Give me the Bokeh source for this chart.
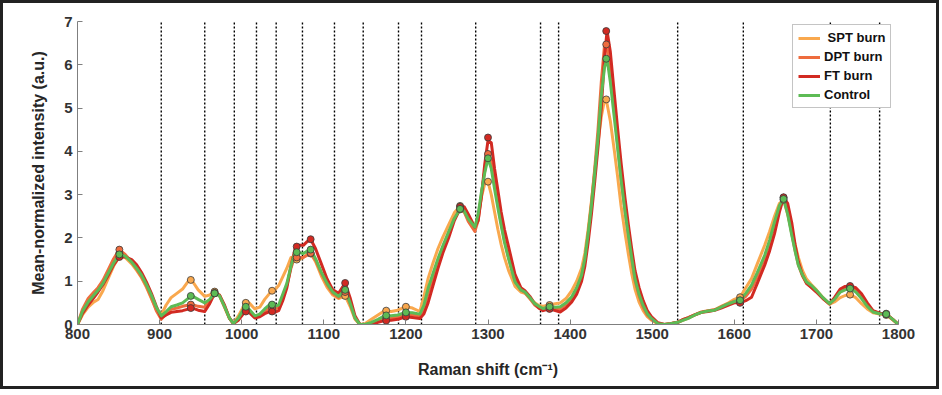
from bokeh.plotting import figure
from bokeh.models import Range1d, FixedTicker, Legend, LegendItem
from bokeh.embed import file_html
from bokeh.resources import INLINE

# ---------------- data ----------------
shift = [800, 806, 813, 820, 825, 831, 837, 844, 851, 858, 866, 872, 878, 884, 890, 896, 902, 908, 914, 921,
         928, 936, 940, 947, 955, 961, 967, 973, 979, 985, 990, 996, 1004, 1009, 1016, 1022, 1028, 1034, 1040, 1045,
         1050, 1055, 1060, 1065, 1070, 1075, 1080, 1084, 1090, 1097, 1104, 1111, 1118, 1126, 1132, 1138, 1144, 1150, 1158, 1166,
         1174, 1182, 1190, 1200, 1208, 1217, 1222, 1227, 1233, 1239, 1245, 1252, 1259, 1266, 1271, 1276, 1284, 1288, 1292, 1296,
         1300, 1304, 1308, 1312, 1316, 1320, 1325, 1333, 1340, 1345, 1351, 1357, 1362, 1367, 1375, 1382, 1388, 1395, 1402, 1408,
         1414, 1418, 1422, 1426, 1430, 1434, 1438, 1442, 1445, 1449, 1454, 1458, 1462, 1467, 1471, 1475, 1479, 1484, 1489, 1494,
         1499, 1507, 1515, 1522, 1531, 1538, 1544, 1552, 1560, 1568, 1576, 1584, 1593, 1600, 1607, 1614, 1621, 1628, 1637, 1643,
         1649, 1655, 1660, 1665, 1670, 1674, 1678, 1683, 1688, 1694, 1700, 1708, 1716, 1722, 1729, 1735, 1741, 1748, 1755, 1762,
         1769, 1777, 1785, 1793, 1800]

control = [0.0, 0.30, 0.52, 0.68, 0.79, 0.95, 1.17, 1.42, 1.62, 1.58, 1.44, 1.30, 1.14, 0.92, 0.68, 0.40, 0.20, 0.30, 0.41, 0.45,
           0.50, 0.62, 0.66, 0.58, 0.50, 0.58, 0.72, 0.66, 0.42, 0.15, 0.02, 0.15, 0.41, 0.35, 0.20, 0.24, 0.36, 0.46, 0.42, 0.45,
           0.70, 0.95, 1.35, 1.67, 1.66, 1.64, 1.70, 1.73, 1.52, 1.21, 0.95, 0.75, 0.65, 0.80, 0.50, 0.15, 0.0, 0.0, 0.05, 0.12,
           0.20, 0.20, 0.22, 0.28, 0.27, 0.24, 0.45, 0.83, 1.18, 1.52, 1.82, 2.14, 2.45, 2.67, 2.62, 2.44, 2.25, 2.55, 3.06, 3.50,
           3.84, 3.60, 3.13, 2.70, 2.29, 1.90, 1.52, 0.98, 0.80, 0.75, 0.62, 0.48, 0.42, 0.37, 0.41, 0.40, 0.41, 0.50, 0.64, 0.85,
           1.14, 1.52, 2.10, 2.75, 3.50, 4.30, 5.28, 5.95, 6.14, 5.60, 4.75, 4.05, 3.36, 2.60, 2.06, 1.55, 1.06, 0.70, 0.44, 0.25,
           0.14, 0.02, 0.0, 0.02, 0.05, 0.10, 0.14, 0.22, 0.28, 0.31, 0.33, 0.40, 0.48, 0.53, 0.56, 0.72, 0.91, 1.20, 1.60, 1.95,
           2.37, 2.75, 2.90, 2.55, 2.06, 1.70, 1.37, 1.15, 0.98, 0.90, 0.79, 0.62, 0.48, 0.58, 0.75, 0.80, 0.83, 0.75, 0.60, 0.42,
           0.29, 0.25, 0.24, 0.12, 0.0]

ft_burn = [0.0, 0.25, 0.45, 0.62, 0.75, 0.92, 1.12, 1.38, 1.56, 1.56, 1.50, 1.38, 1.20, 0.98, 0.72, 0.42, 0.15, 0.22, 0.28, 0.30,
           0.32, 0.36, 0.38, 0.33, 0.30, 0.48, 0.72, 0.68, 0.45, 0.15, 0.02, 0.10, 0.30, 0.28, 0.15, 0.18, 0.25, 0.30, 0.28, 0.32,
           0.55, 0.85, 1.35, 1.75, 1.83, 1.83, 1.92, 1.97, 1.75, 1.40, 1.05, 0.80, 0.72, 0.96, 0.62, 0.20, 0.0, 0.0, 0.0, 0.05,
           0.09, 0.10, 0.12, 0.18, 0.16, 0.14, 0.25, 0.50, 0.90, 1.29, 1.65, 2.00, 2.40, 2.68, 2.72, 2.55, 2.25, 2.40, 2.95, 3.70,
           4.25, 4.20, 3.60, 3.10, 2.60, 2.20, 1.80, 1.15, 0.85, 0.78, 0.65, 0.48, 0.38, 0.32, 0.36, 0.32, 0.29, 0.38, 0.52, 0.70,
           1.00, 1.35, 1.90, 2.55, 3.30, 4.10, 5.00, 6.20, 6.78, 6.30, 5.30, 4.50, 3.75, 2.90, 2.30, 1.75, 1.25, 0.85, 0.55, 0.32,
           0.18, 0.04, 0.0, 0.02, 0.05, 0.12, 0.16, 0.22, 0.28, 0.30, 0.33, 0.38, 0.45, 0.50, 0.50, 0.55, 0.63, 0.95, 1.37, 1.70,
           2.10, 2.60, 2.94, 2.80, 2.35, 1.85, 1.45, 1.15, 0.95, 0.85, 0.75, 0.60, 0.48, 0.62, 0.82, 0.88, 0.89, 0.85, 0.71, 0.50,
           0.32, 0.26, 0.24, 0.12, 0.0]

dpt_burn = [0.0, 0.35, 0.60, 0.75, 0.85, 1.02, 1.25, 1.52, 1.73, 1.62, 1.44, 1.28, 1.10, 0.88, 0.62, 0.32, 0.12, 0.25, 0.35, 0.38,
            0.42, 0.45, 0.46, 0.42, 0.40, 0.55, 0.73, 0.68, 0.42, 0.15, 0.02, 0.12, 0.35, 0.32, 0.18, 0.22, 0.30, 0.38, 0.35, 0.40,
            0.62, 0.90, 1.30, 1.60, 1.55, 1.55, 1.60, 1.65, 1.48, 1.18, 0.92, 0.72, 0.62, 0.75, 0.48, 0.15, 0.0, 0.0, 0.03, 0.08,
            0.14, 0.15, 0.18, 0.24, 0.22, 0.20, 0.38, 0.72, 1.08, 1.45, 1.78, 2.10, 2.45, 2.66, 2.60, 2.38, 2.15, 2.40, 3.00, 3.55,
            3.94, 3.75, 3.25, 2.78, 2.35, 1.95, 1.55, 1.00, 0.80, 0.74, 0.60, 0.45, 0.38, 0.34, 0.38, 0.36, 0.36, 0.46, 0.60, 0.80,
            1.10, 1.50, 2.10, 2.80, 3.60, 4.50, 5.60, 6.47, 6.40, 5.80, 4.90, 4.15, 3.40, 2.62, 2.05, 1.52, 1.02, 0.66, 0.40, 0.22,
            0.12, 0.02, 0.0, 0.02, 0.05, 0.12, 0.16, 0.23, 0.29, 0.32, 0.34, 0.41, 0.48, 0.54, 0.55, 0.65, 0.82, 1.10, 1.52, 1.88,
            2.30, 2.72, 2.93, 2.60, 2.10, 1.72, 1.38, 1.12, 0.95, 0.86, 0.76, 0.60, 0.47, 0.58, 0.76, 0.82, 0.85, 0.78, 0.62, 0.44,
            0.30, 0.26, 0.25, 0.12, 0.0]

spt_burn = [0.0, 0.22, 0.40, 0.52, 0.58, 0.78, 1.05, 1.35, 1.58, 1.55, 1.40, 1.25, 1.08, 0.86, 0.60, 0.35, 0.22, 0.45, 0.62, 0.72,
            0.82, 1.03, 1.00, 0.80, 0.65, 0.68, 0.76, 0.66, 0.40, 0.14, 0.02, 0.20, 0.48, 0.50, 0.36, 0.40, 0.58, 0.72, 0.79, 0.90,
            1.10, 1.30, 1.55, 1.55, 1.50, 1.55, 1.62, 1.64, 1.45, 1.12, 0.86, 0.68, 0.60, 0.66, 0.42, 0.12, 0.0, 0.02, 0.12, 0.22,
            0.32, 0.30, 0.33, 0.41, 0.38, 0.30, 0.65, 1.06, 1.42, 1.75, 2.02, 2.30, 2.58, 2.74, 2.62, 2.42, 2.20, 2.50, 2.95, 3.25,
            3.30, 3.00, 2.60, 2.20, 1.85, 1.55, 1.25, 0.88, 0.75, 0.72, 0.60, 0.50, 0.44, 0.42, 0.45, 0.48, 0.50, 0.60, 0.78, 1.00,
            1.30, 1.65, 2.20, 2.85, 3.55, 4.20, 4.80, 5.20, 5.10, 4.70, 4.00, 3.40, 2.75, 2.10, 1.62, 1.18, 0.82, 0.52, 0.32, 0.18,
            0.10, 0.02, 0.0, 0.02, 0.05, 0.10, 0.15, 0.22, 0.28, 0.31, 0.34, 0.42, 0.50, 0.58, 0.63, 0.85, 1.06, 1.40, 1.83, 2.15,
            2.50, 2.80, 2.88, 2.55, 2.15, 1.85, 1.55, 1.25, 1.05, 0.92, 0.80, 0.62, 0.47, 0.52, 0.62, 0.67, 0.69, 0.62, 0.48, 0.36,
            0.27, 0.24, 0.22, 0.11, 0.0]

# marked peaks
peak_shift = [851, 938, 967, 1005, 1037, 1067, 1084, 1126, 1176, 1200, 1266, 1300, 1375, 1444, 1607, 1660, 1741, 1785]
peak_control = [1.62, 0.66, 0.72, 0.41, 0.46, 1.67, 1.73, 0.80, 0.21, 0.28, 2.67, 3.84, 0.41, 6.14, 0.56, 2.90, 0.83, 0.24]
peak_ft = [1.56, 0.38, 0.72, 0.30, 0.30, 1.80, 1.97, 0.96, 0.09, 0.18, 2.72, 4.32, 0.36, 6.78, 0.50, 2.94, 0.89, 0.24]
peak_dpt = [1.73, 0.46, 0.73, 0.35, 0.38, 1.55, 1.65, 0.75, 0.14, 0.24, 2.66, 3.94, 0.38, 6.47, 0.55, 2.93, 0.85, 0.25]
peak_spt = [1.65, 1.03, 0.76, 0.50, 0.78, 1.50, 1.64, 0.66, 0.32, 0.41, 2.74, 3.30, 0.45, 5.20, 0.63, 2.88, 0.69, 0.22]

# dotted reference bands
band_lines = [902, 955, 991, 1018, 1042, 1074, 1113, 1148, 1191, 1219, 1285, 1364, 1386, 1531, 1611, 1717, 1777]

x_ticks = [800, 900, 1000, 1100, 1200, 1300, 1400, 1500, 1600, 1700, 1800]
y_ticks = [0, 1, 2, 3, 4, 5, 6, 7]

series_names = [" SPT burn", "DPT burn", "FT burn", "Control"]
series_colors = ["#F9A84E", "#EE6C3E", "#D22A22", "#5DBB55"]

# ---------------- figure ----------------
FONT = "Liberation Sans"
p = figure(width=939, height=389, output_backend="svg", toolbar_location=None,
           x_range=Range1d(800, 1800), y_range=Range1d(0, 7),
           min_border_left=74, min_border_right=44, min_border_top=18, min_border_bottom=68)
p.styles = {"border": "3px solid #222222"}
p.outline_line_color = None
p.grid.visible = False
p.background_fill_color = "white"
p.border_fill_color = "white"

for ax in (p.xaxis[0], p.yaxis[0]):
    ax.axis_line_color = "#7f7f7f"
    ax.axis_line_width = 1
    ax.major_tick_line_color = "#7f7f7f"
    ax.major_tick_in = 5
    ax.major_tick_out = 0
    ax.minor_tick_line_color = None
    ax.major_label_text_font = FONT
    ax.major_label_text_font_style = "bold"
    ax.major_label_text_font_size = "15px"
    ax.major_label_text_color = "#333333"
    ax.axis_label_text_font = FONT
    ax.axis_label_text_font_style = "bold"
    ax.axis_label_text_font_size = "16px"
    ax.axis_label_text_color = "#262626"

p.xaxis.ticker = FixedTicker(ticks=x_ticks)
p.yaxis.ticker = FixedTicker(ticks=y_ticks)
p.xaxis.axis_label = "Raman shift (cm\u207b\u00b9)"
p.yaxis.axis_label = "Mean-normalized intensity (a.u.)"
p.xaxis.major_label_standoff = 4
p.yaxis.major_label_standoff = 5
p.xaxis.axis_label_standoff = 19
p.yaxis.axis_label_standoff = 14

# dotted vertical lines
for b in band_lines:
    p.segment(x0=[b], y0=[0], x1=[b], y1=[7], line_color="#000000", line_width=1.4, line_dash="2 2")

series = [spt_burn, dpt_burn, ft_burn, control]
peaks = [peak_spt, peak_dpt, peak_ft, peak_control]
items = []
for name, col, ys in zip(series_names, series_colors, series):
    r = p.line(shift, ys, line_color=col, line_width=3, line_join="round")
    items.append(LegendItem(label=name, renderers=[r]))
for col, pk in zip(series_colors, peaks):
    p.scatter(peak_shift, pk, marker="circle", size=7, fill_color=col, line_color="#3a3a3a", line_width=0.8)

legend = Legend(items=items, location=(715, 216))
legend.label_text_font = FONT
legend.label_text_font_style = "bold"
legend.label_text_font_size = "13px"
legend.label_text_color = "#111111"
legend.label_height = 14
legend.label_standoff = 4
legend.glyph_width = 22
legend.glyph_height = 14
legend.spacing = 4
legend.padding = 5
legend.margin = 0
legend.border_line_color = "#8a8a8a"
legend.border_line_width = 1
legend.background_fill_alpha = 1
p.add_layout(legend)

open("out.html", "w").write(file_html(p, INLINE))
